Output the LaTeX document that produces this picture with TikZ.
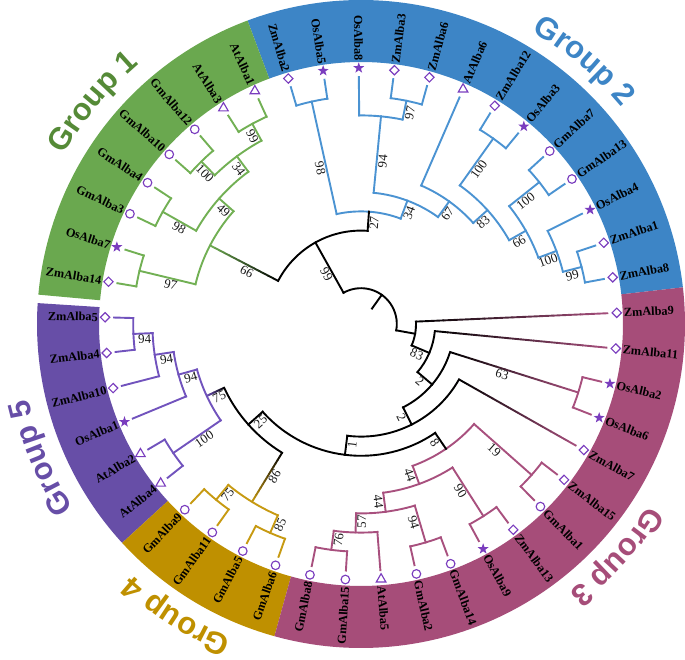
\documentclass[tikz,border=0pt]{standalone}
\usepackage{fontspec}
\setmainfont{Liberation Serif}
\newfontfamily\grpfont{Liberation Sans}
\usetikzlibrary{shapes.geometric,decorations.text}
\definecolor{rG1}{HTML}{6AA84F}
\definecolor{rG2}{HTML}{3D85C6}
\definecolor{rG3}{HTML}{A64D79}
\definecolor{rG4}{HTML}{BF9000}
\definecolor{rG5}{HTML}{674EA7}
\definecolor{gr}{HTML}{72B054}
\definecolor{bl}{HTML}{4B93D2}
\definecolor{pk}{HTML}{A8507E}
\definecolor{gd}{HTML}{C79A12}
\definecolor{pu}{HTML}{7153BD}
\definecolor{tG1}{HTML}{558A37}
\definecolor{mkc}{HTML}{7A3DBE}
\def\bw{1.9pt}
\def\Hz{247}\def\Ha{227.8}\def\Hb{208.6}\def\Hc{189.4}\def\Hd{170.2}\def\He{151}
\def\Hf{131.8}\def\Hg{112.6}\def\Hh{93.4}\def\Hi{74.2}\def\Hj{55}\def\Hk{35.8}
\tikzset{
 br/.style={line width=\bw, line cap=rect},
 suplab/.style={anchor=north,inner sep=1.4pt,font=\fontsize{13}{14}\selectfont,text=black!90},
 leaflab/.style={inner sep=0pt,font=\bfseries\fontsize{12.3}{13}\selectfont},
 mk/.style={draw=mkc,line width=1.15pt,inner sep=0pt},
 mgm/.style={mk,circle,minimum size=8.6pt},
 mzm/.style={mk,diamond,minimum size=9.8pt},
 mat/.style={mk,regular polygon,regular polygon sides=3,minimum size=11pt},
 mos/.style={fill=mkc,star,star points=5,star point ratio=2.5,minimum size=11.5pt,inner sep=0pt},
}
\newcommand\ringseg[3]{\fill[#3] (#1:262pt) arc[start angle=#1,end angle=#2,radius=262pt] -- (#2:324pt) arc[start angle=#2,end angle=#1,radius=324pt] -- cycle;}
\newcommand\grplabel[4]{% angle, baseline radius, colour, text
  \pgfmathsetmacro\ta{#1+40}\pgfmathsetmacro\tb{#1-40}%
  \path[decorate,decoration={text along path,text align=center,text color=#3,
    text={|\grpfont\bfseries\fontsize{31}{33}\selectfont|#4}}]
    (\ta:#2pt) arc[start angle=\ta,end angle=\tb,radius=#2pt];}
\newcommand\clade[6]{\coordinate (#1) at (#2:#3pt);\draw[br,draw=#6] (#4:#3pt) arc[start angle=#4,end angle=#5,radius=#3pt];}
\newcommand\brn[4]{\draw[br,draw=#4] (#1:#2pt) -- (#3);}
\newcommand\brnl[6]{%
  \draw[br,draw=#5] (#1:#2pt) -- (#4);
  \pgfmathsetmacro\rl{#2+0.42*(#3-#2)}%
  \pgfmathsetmacro\rt{cos(#1)>0 ? #1 : #1+180}%
  \node[suplab,rotate=\rt] (s-#4) at (#1:\rl pt) {#6};}
\newcommand\grd[5]{%
  \foreach \i in {0,...,13}{%
    \pgfmathsetmacro\ga{#2+(#3-#2)*\i/14}%
    \pgfmathsetmacro\gb{#2+(#3-#2)*(\i+1)/14+0.5}%
    \pgfmathtruncatemacro\gp{100*(\i+0.5)/14}%
    \draw[line width=\bw,color=#4!\gp!black] (#1:\ga pt) -- (#1:\gb pt);
  }}
\newcommand\grdl[6]{%
  \grd{#1}{#2}{#3}{#4}{#5}%
  \pgfmathsetmacro\rl{#2+0.42*(#3-#2)}%
  \pgfmathsetmacro\rt{cos(#1)>0 ? #1 : #1+180}%
  \node[suplab,rotate=\rt] (s-#5) at (#1:\rl pt) {#6};}
\newcommand\leafR[3]{%
  \coordinate (l-#1) at (#2:\Hz pt);
  \node[#3] (m-#1) at (#2:256pt) {};
  \node[leaflab,anchor=west,rotate=#2] (t-#1) at (#2:263pt) {#1};}
\newcommand\leafL[3]{%
  \coordinate (l-#1) at (#2:\Hz pt);
  \node[#3] (m-#1) at (#2:256pt) {};
  \pgfmathsetmacro\lr{#2-180}%
  \node[leaflab,anchor=east,rotate=\lr] (t-#1) at (#2:263pt) {#1};}
\begin{document}
\begin{tikzpicture}
\useasboundingbox (-361pt,-336pt) rectangle (324pt,324pt);
% rings
\ringseg{6.5}{110.5}{rG2}
\ringseg{110.5}{174.8}{rG1}
\ringseg{176.3}{222.5}{rG5}
\ringseg{222.5}{254.5}{rG4}
\ringseg{254.5}{366.5}{rG3}
% group labels
\grplabel{140.4}{342}{tG1}{Group 1}
\grplabel{49.7}{339}{rG2}{Group 2}
\grplabel{-42.2}{340}{rG3}{Group 3}
\grplabel{237.7}{340}{rG4}{Group 4}
\grplabel{202.7}{341}{rG5}{Group 5}
% leaves
\leafR{ZmAlba9}{2.5}{mzm}
\leafR{ZmAlba8}{10.5}{mzm}
\leafR{ZmAlba1}{18.5}{mzm}
\leafR{OsAlba4}{26.5}{mos}
\leafR{GmAlba13}{34.5}{mgm}
\leafR{GmAlba7}{42.5}{mgm}
\leafR{OsAlba3}{50.5}{mos}
\leafR{ZmAlba12}{58.5}{mzm}
\leafR{AtAlba6}{66.5}{mat}
\leafR{ZmAlba6}{74.5}{mzm}
\leafR{ZmAlba3}{82.5}{mzm}
\leafL{OsAlba8}{90.5}{mos}
\leafL{OsAlba5}{98.5}{mos}
\leafL{ZmAlba2}{106.5}{mzm}
\leafL{AtAlba1}{114.5}{mat}
\leafL{AtAlba3}{122.5}{mat}
\leafL{GmAlba12}{130.5}{mgm}
\leafL{GmAlba10}{138.5}{mgm}
\leafL{GmAlba4}{146.5}{mgm}
\leafL{GmAlba3}{154.5}{mgm}
\leafL{OsAlba7}{162.5}{mos}
\leafL{ZmAlba14}{170.5}{mzm}
\leafL{ZmAlba5}{178.5}{mzm}
\leafL{ZmAlba4}{186.5}{mzm}
\leafL{ZmAlba10}{194.5}{mzm}
\leafL{OsAlba1}{202.5}{mos}
\leafL{AtAlba2}{210.5}{mat}
\leafL{AtAlba4}{218.5}{mat}
\leafL{GmAlba9}{226.5}{mgm}
\leafL{GmAlba11}{234.5}{mgm}
\leafL{GmAlba5}{242.5}{mgm}
\leafL{GmAlba6}{250.5}{mgm}
\leafL{GmAlba8}{258.5}{mgm}
\leafL{GmAlba15}{266.5}{mgm}
\leafR{AtAlba5}{-85.5}{mat}
\leafR{GmAlba2}{-77.5}{mgm}
\leafR{GmAlba14}{-69.5}{mgm}
\leafR{OsAlba9}{-61.5}{mos}
\leafR{ZmAlba13}{-53.5}{mzm}
\leafR{GmAlba1}{-45.5}{mgm}
\leafR{ZmAlba15}{-37.5}{mzm}
\leafR{ZmAlba7}{-29.5}{mzm}
\leafR{OsAlba6}{-21.5}{mos}
\leafR{OsAlba2}{-13.5}{mos}
\leafR{ZmAlba11}{-5.5}{mzm}
% group 2
\clade{n99b}{14.5}{\Ha}{10.5}{18.5}{bl}
\brn{10.5}{\Ha}{l-ZmAlba8}{bl}
\brn{18.5}{\Ha}{l-ZmAlba1}{bl}
\clade{n100d}{20.5}{\Hb}{14.5}{26.5}{bl}
\brnl{14.5}{\Hb}{\Ha}{n99b}{bl}{99}
\brn{26.5}{\Hb}{l-OsAlba4}{bl}
\clade{n100c}{38.5}{\Ha}{34.5}{42.5}{bl}
\brn{34.5}{\Ha}{l-GmAlba13}{bl}
\brn{42.5}{\Ha}{l-GmAlba7}{bl}
\clade{n66}{29.5}{\Hc}{20.5}{38.5}{bl}
\brnl{20.5}{\Hc}{\Hb}{n100d}{bl}{100}
\brnl{38.5}{\Hc}{\Ha}{n100c}{bl}{100}
\clade{n100b}{54.5}{\Ha}{50.5}{58.5}{bl}
\brn{50.5}{\Ha}{l-OsAlba3}{bl}
\brn{58.5}{\Ha}{l-ZmAlba12}{bl}
\clade{n83}{42}{\Hd}{29.5}{54.5}{bl}
\brnl{29.5}{\Hd}{\Hc}{n66}{bl}{66}
\brnl{54.5}{\Hd}{\Ha}{n100b}{bl}{100}
\clade{n67}{54.25}{\He}{42}{66.5}{bl}
\brnl{42}{\He}{\Hd}{n83}{bl}{83}
\brn{66.5}{\He}{l-AtAlba6}{bl}
\clade{n97b}{78.5}{\Ha}{74.5}{82.5}{bl}
\brn{74.5}{\Ha}{l-ZmAlba6}{bl}
\brn{82.5}{\Ha}{l-ZmAlba3}{bl}
\clade{n94}{84.5}{\Hb}{78.5}{90.5}{bl}
\brnl{78.5}{\Hb}{\Ha}{n97b}{bl}{97}
\brn{90.5}{\Hb}{l-OsAlba8}{bl}
\clade{n34b}{69.375}{\Hf}{54.25}{84.5}{bl}
\brnl{54.25}{\Hf}{\He}{n67}{bl}{67}
\brnl{84.5}{\Hf}{\Hb}{n94}{bl}{94}
\clade{n98b}{102.5}{\Ha}{98.5}{106.5}{bl}
\brn{98.5}{\Ha}{l-OsAlba5}{bl}
\brn{106.5}{\Ha}{l-ZmAlba2}{bl}
\clade{G2}{85.9375}{\Hg}{69.375}{102.5}{bl}
\brnl{69.375}{\Hg}{\Hf}{n34b}{bl}{34}
\brnl{102.5}{\Hg}{\Ha}{n98b}{bl}{98}
% group 1
\clade{n99}{118.5}{\Ha}{114.5}{122.5}{gr}
\brn{114.5}{\Ha}{l-AtAlba1}{gr}
\brn{122.5}{\Ha}{l-AtAlba3}{gr}
\clade{n100}{134.5}{\Ha}{130.5}{138.5}{gr}
\brn{130.5}{\Ha}{l-GmAlba12}{gr}
\brn{138.5}{\Ha}{l-GmAlba10}{gr}
\clade{n34}{126.5}{\Hb}{118.5}{134.5}{gr}
\brnl{118.5}{\Hb}{\Ha}{n99}{gr}{99}
\brnl{134.5}{\Hb}{\Ha}{n100}{gr}{100}
\clade{n98}{150.5}{\Ha}{146.5}{154.5}{gr}
\brn{146.5}{\Ha}{l-GmAlba4}{gr}
\brn{154.5}{\Ha}{l-GmAlba3}{gr}
\clade{n49}{138.5}{\Hc}{126.5}{150.5}{gr}
\brnl{126.5}{\Hc}{\Hb}{n34}{gr}{34}
\brnl{150.5}{\Hc}{\Ha}{n98}{gr}{98}
\clade{n97}{166.5}{\Ha}{162.5}{170.5}{gr}
\brn{162.5}{\Ha}{l-OsAlba7}{gr}
\brn{170.5}{\Ha}{l-ZmAlba14}{gr}
\clade{G1}{152.5}{\Hd}{138.5}{166.5}{gr}
\brnl{138.5}{\Hd}{\Hc}{n49}{gr}{49}
\brnl{166.5}{\Hd}{\Ha}{n97}{gr}{97}
% A
\clade{A}{119.21875}{\Hh}{85.9375}{152.5}{black}
\brnl{85.9375}{\Hh}{\Hg}{G2}{black}{27}
\grdl{152.5}{\Hh}{\Hd}{gr}{G1}{66}
% group 3
\clade{F}{-17.5}{\Ha}{-21.5}{-13.5}{pk}
\brn{-21.5}{\Ha}{l-OsAlba6}{pk}
\brn{-13.5}{\Ha}{l-OsAlba2}{pk}
\clade{S}{-41.5}{\Ha}{-45.5}{-37.5}{pk}
\brn{-45.5}{\Ha}{l-GmAlba1}{pk}
\brn{-37.5}{\Ha}{l-ZmAlba15}{pk}
\clade{V}{-57.5}{\Ha}{-61.5}{-53.5}{pk}
\brn{-61.5}{\Ha}{l-OsAlba9}{pk}
\brn{-53.5}{\Ha}{l-ZmAlba13}{pk}
\clade{X}{-73.5}{\Ha}{-77.5}{-69.5}{pk}
\brn{-77.5}{\Ha}{l-GmAlba2}{pk}
\brn{-69.5}{\Ha}{l-GmAlba14}{pk}
\clade{Y}{-97.5}{\Ha}{-101.5}{-93.5}{pk}
\brn{-101.5}{\Ha}{l-GmAlba8}{pk}
\brn{-93.5}{\Ha}{l-GmAlba15}{pk}
\clade{W}{-91.5}{\Hb}{-97.5}{-85.5}{pk}
\brnl{-97.5}{\Hb}{\Ha}{Y}{pk}{76}
\brn{-85.5}{\Hb}{l-AtAlba5}{pk}
\clade{U}{-82.5}{\Hc}{-91.5}{-73.5}{pk}
\brnl{-91.5}{\Hc}{\Hb}{W}{pk}{57}
\brnl{-73.5}{\Hc}{\Ha}{X}{pk}{94}
\clade{T}{-70}{\Hd}{-82.5}{-57.5}{pk}
\brnl{-82.5}{\Hd}{\Hc}{U}{pk}{44}
\brnl{-57.5}{\Hd}{\Ha}{V}{pk}{90}
\clade{I}{-55.75}{\He}{-70}{-41.5}{pk}
\brnl{-70}{\He}{\Hd}{T}{pk}{44}
\brnl{-41.5}{\He}{\Ha}{S}{pk}{19}
% group 4
\clade{N}{-113.5}{\Ha}{-117.5}{-109.5}{gd}
\brn{-117.5}{\Ha}{l-GmAlba5}{gd}
\brn{-109.5}{\Ha}{l-GmAlba6}{gd}
\clade{M}{-129.5}{\Ha}{-133.5}{-125.5}{gd}
\brn{-133.5}{\Ha}{l-GmAlba9}{gd}
\brn{-125.5}{\Ha}{l-GmAlba11}{gd}
\clade{L}{-121.5}{\Hb}{-129.5}{-113.5}{gd}
\brnl{-113.5}{\Hb}{\Ha}{N}{gd}{85}
\brnl{-129.5}{\Hb}{\Ha}{M}{gd}{75}
% group 5
\clade{Q}{-145.5}{\Ha}{-149.5}{-141.5}{pu}
\brn{-149.5}{\Ha}{l-AtAlba2}{pu}
\brn{-141.5}{\Ha}{l-AtAlba4}{pu}
\clade{P3}{-177.5}{\Ha}{-181.5}{-173.5}{pu}
\brn{-181.5}{\Ha}{l-ZmAlba5}{pu}
\brn{-173.5}{\Ha}{l-ZmAlba4}{pu}
\clade{P2}{-171.5}{\Hb}{-177.5}{-165.5}{pu}
\brnl{-177.5}{\Hb}{\Ha}{P3}{pu}{94}
\brn{-165.5}{\Hb}{l-ZmAlba10}{pu}
\clade{P}{-164.5}{\Hc}{-171.5}{-157.5}{pu}
\brnl{-171.5}{\Hc}{\Hb}{P2}{pu}{94}
\brn{-157.5}{\Hc}{l-OsAlba1}{pu}
\clade{K}{-155}{\Hd}{-164.5}{-145.5}{pu}
\brnl{-164.5}{\Hd}{\Hc}{P}{pu}{94}
\brnl{-145.5}{\Hd}{\Ha}{Q}{pu}{100}
% backbone
\clade{J}{-138.25}{\He}{-155}{-121.5}{black}
\grdl{-121.5}{\He}{\Hb}{gd}{L}{86}
\grdl{-155}{\He}{\Hd}{pu}{K}{75}
\clade{H}{-97}{\Hf}{-138.25}{-55.75}{black}
\brnl{-55.75}{\Hf}{\He}{I}{black}{8}
\brnl{-138.25}{\Hf}{\He}{J}{black}{25}
\clade{E}{-63.25}{\Hg}{-97}{-29.5}{black}
\grd{-29.5}{\Hg}{\Hz}{pk}{l-ZmAlba7}
\brnl{-97}{\Hg}{\Hf}{H}{black}{1}
\clade{D}{-40.375}{\Hh}{-63.25}{-17.5}{black}
\grdl{-17.5}{\Hh}{\Ha}{pk}{F}{63}
\brnl{-63.25}{\Hh}{\Hg}{E}{black}{2}
\clade{C}{-22.9375}{\Hi}{-40.375}{-5.5}{black}
\grd{-5.5}{\Hi}{\Hz}{pk}{l-ZmAlba11}
\brnl{-40.375}{\Hi}{\Hh}{D}{black}{2}
\clade{B}{-10.21875}{\Hj}{-22.9375}{2.5}{black}
\grd{2.5}{\Hj}{\Hz}{pk}{l-ZmAlba9}
\brnl{-22.9375}{\Hj}{\Hi}{C}{black}{83}
\clade{root}{54.5}{\Hk}{-10.21875}{119.21875}{black}
\brnl{119.21875}{\Hk}{\Hh}{A}{black}{99}
\brn{-10.21875}{\Hk}{B}{black}
\coordinate (stub) at (54.5:19pt);
\draw[br] (root) -- (stub);
\end{tikzpicture}
\end{document}
